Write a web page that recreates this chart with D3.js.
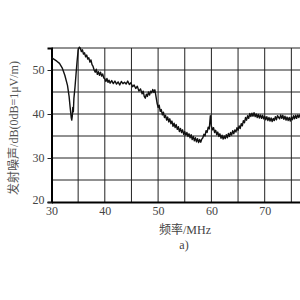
<!DOCTYPE html>
<html><head><meta charset="utf-8">
<script src="https://cdn.jsdelivr.net/npm/d3@7"></script>
<style>body{margin:0;background:#fff}svg{display:block}</style>
</head><body><svg id="c" width="300" height="300"></svg>
<script>
const freq = [30,30.5,31,31.5,32,32.5,33,33.3,33.5,33.7,33.8,33.9,34.0,34.1,34.2,34.4,34.6,34.8,35.0,35.2,35.4,35.6,35.8,36.0,
36.2,36.4,36.6,36.8,37.0,37.2,37.4,37.6,37.8,38.0,38.2,38.4,38.6,38.8,39.0,39.2,39.4,39.6,39.8,40.0,40.2,40.4,40.6,40.8,41.0,41.3,41.6,41.9,42.2,42.5,42.8,43.1,43.4,43.7,44.0,44.3,44.6,44.9,45.2,45.5,45.8,46.1,46.4,46.7,47.0,47.2,47.4,47.6,47.8,48.0,48.2,48.4,48.6,48.8,49.0,49.2,49.4,49.6,49.8,50.0,
50.2,50.4,50.6,50.8,51.0,51.2,51.4,51.6,51.8,52.0,52.2,52.4,52.6,52.8,53.0,53.2,53.4,53.6,53.8,54.0,54.2,54.4,54.6,54.8,55.0,55.2,55.4,55.6,55.8,56.0,56.2,56.4,56.6,56.8,57.0,57.2,57.4,57.6,57.8,58.0,58.2,58.4,58.6,58.8,59.0,59.2,59.4,59.6,59.8,60.0,
60.2,60.4,60.6,60.8,61.0,61.2,61.4,61.6,61.8,62.0,62.2,62.4,62.6,62.8,63.0,63.2,63.4,63.6,63.8,64.0,64.2,64.4,64.6,64.8,65.0,65.2,65.4,65.6,65.8,66.0,66.2,66.4,66.6,66.8,67.0,67.2,67.4,67.6,67.8,68.0,68.2,68.4,68.6,68.8,69.0,69.2,69.4,69.6,69.8,70.0,
70.2,70.4,70.6,70.8,71.0,71.2,71.4,71.6,71.8,72.0,72.2,72.4,72.8,73.0,73.2,73.4,73.6,73.8,74.0,74.2,74.4,74.6,74.8,75.0,75.2,75.4,75.6,75.8,76.0,76.2,76.4,76.6,76.8];
const noise = [52.8,52.4,52.0,51.5,50.5,48.8,46.5,44.0,41.5,39.2,38.6,39.5,41.5,40.5,43.5,46.0,49.0,52.0,54.5,55.2,55.0,54.2,54.6,53.6,
53.9,53.0,53.4,52.5,52.8,51.8,52.3,51.2,50.8,50.0,49.5,50.2,49.0,49.6,48.8,49.5,48.6,49.1,48.2,48.0,47.4,48.1,47.2,47.7,47.0,47.6,46.9,47.5,46.8,47.3,46.6,47.4,46.9,47.2,46.8,47.5,46.7,47.1,46.2,46.6,45.8,46.3,45.2,45.7,44.6,45.2,44.0,43.6,44.5,44.0,45.0,44.3,45.2,44.8,45.6,44.9,45.5,44.0,42.5,41.5,
42.0,40.6,41.0,39.8,40.4,39.2,39.7,38.6,39.3,38.2,38.9,37.8,38.4,37.2,37.9,36.9,37.6,36.5,37.1,36.0,36.7,35.8,36.4,35.4,36.0,35.2,35.8,34.9,35.5,34.6,35.3,34.2,34.9,33.9,34.6,33.7,34.4,33.5,34.2,33.6,34.3,34.6,35.4,35.0,36.2,35.8,37.0,36.6,39.6,37.2,
36.4,36.9,35.8,36.3,35.3,35.9,34.9,35.5,34.5,35.2,34.3,35.0,34.4,35.3,34.6,35.6,34.9,35.8,35.2,36.2,35.5,36.4,35.9,36.9,36.3,37.3,36.7,37.8,37.3,38.5,38.0,39.2,38.6,39.6,39.0,40.1,39.4,40.2,39.5,40.3,39.4,40.0,39.2,39.9,39.1,39.8,39.0,39.7,38.9,39.5,
38.7,39.4,38.5,39.2,38.4,39.1,38.3,39.0,38.5,39.4,38.7,39.6,38.9,39.8,39.0,39.7,38.8,39.5,38.6,39.3,38.5,39.2,38.4,39.3,38.7,39.6,38.9,39.7,39.0,39.8,39.2,39.8,39.4];
const xTicks = [30,40,50,60,70];
const yTicks = [20,30,40,50];
const xGrid = [35,40,45,50,55,60,65,70,75,80];
const yGrid = [25,30,35,40,45,50,55];

const svg = d3.select("#c");
const x = d3.scaleLinear().domain([30,80]).range([51.5,318]);
const y = d3.scaleLinear().domain([20,55]).range([202,48]);
const serif = "'Liberation Serif','DejaVu Serif',serif";

// grid
svg.append("g").selectAll("line").data(xGrid).join("line")
  .attr("x1",d=>x(d)).attr("x2",d=>x(d)).attr("y1",y(55)).attr("y2",y(20))
  .attr("stroke","#222").attr("stroke-width",1);
svg.append("g").selectAll("line").data(yGrid).join("line")
  .attr("x1",x(30)).attr("x2",300).attr("y1",d=>y(d)).attr("y2",d=>y(d))
  .attr("stroke","#222").attr("stroke-width",1);

// axes
const ya = svg.append("g").attr("transform",`translate(${x(30)},0)`)
  .call(d3.axisLeft(y).tickValues(yTicks).tickSize(4).tickPadding(3));
ya.select(".domain").attr("stroke","#000").attr("stroke-width",2);
ya.selectAll("text").attr("font-family",serif).attr("font-size",12).attr("fill","#444");
ya.selectAll(".tick line").attr("stroke","#222");
ya.selectAll(".tick").filter(d=>d===20).select("text").attr("dy","0.1em");

const xa = svg.append("g").attr("transform",`translate(0,${y(20)})`)
  .call(d3.axisBottom(x).tickValues(xTicks).tickSize(0).tickPadding(4));
xa.select(".domain").attr("stroke","#000").attr("stroke-width",2);
xa.selectAll("text").attr("font-family",serif).attr("font-size",12).attr("fill","#444");

// curve
svg.append("path").datum(freq.map((f,i)=>[f,noise[i]]))
  .attr("d",d3.line().x(d=>x(d[0])).y(d=>y(d[1])))
  .attr("fill","none").attr("stroke","#111").attr("stroke-width",1.4).attr("stroke-linejoin","round");

// labels
svg.append("text").attr("transform","translate(18,128) rotate(-90)")
  .attr("text-anchor","middle").attr("font-family",serif+",'Noto Sans CJK SC'").attr("font-size",12).attr("fill","#555")
  .text("发射噪声/dB(0dB=1μV/m)");
svg.append("text").attr("x",185).attr("y",234).attr("text-anchor","middle")
  .attr("font-family",serif+",'Noto Sans CJK SC'").attr("font-size",12).attr("fill","#444").text("频率/MHz");
svg.append("text").attr("x",184).attr("y",249).attr("text-anchor","middle")
  .attr("font-family",serif).attr("font-size",12).attr("fill","#444").text("a)");
</script></body></html>
